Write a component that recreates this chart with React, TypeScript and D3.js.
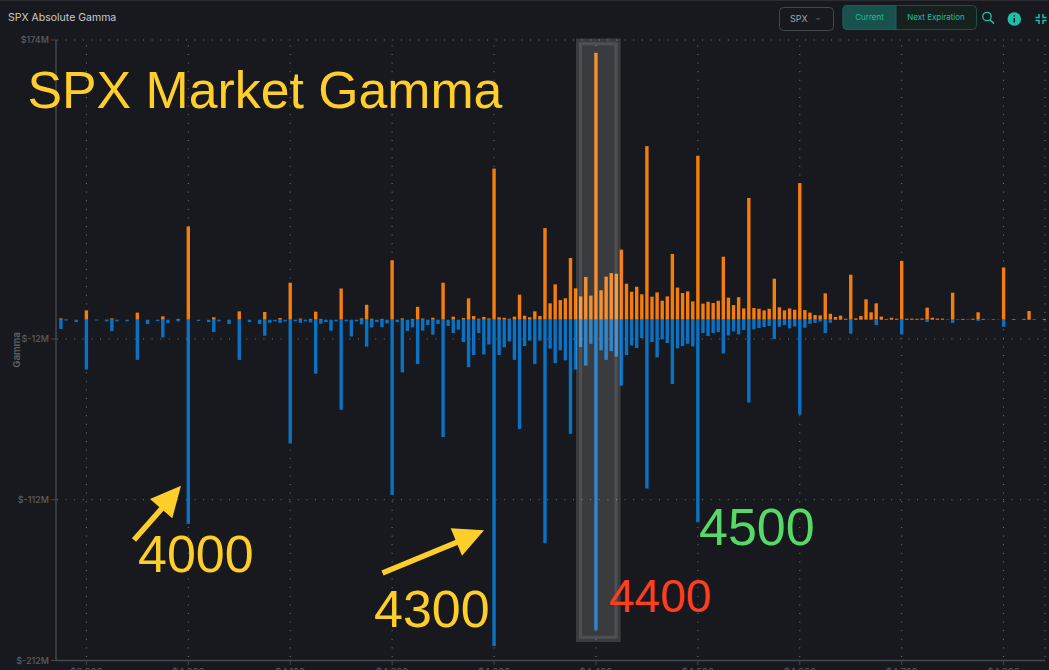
import React from 'react';
import * as d3 from 'd3';

const WIDTH = 1049;
const HEIGHT = 670;

// SPX strikes, call gamma and put gamma in $M (same order in all three)
const strikes = [
  3875, 3880, 3890, 3900, 3910, 3920, 3925, 3930, 3940, 3950, 3960, 3970, 3975, 3980, 3990,
  4000, 4010, 4020, 4025, 4030, 4040, 4050, 4060, 4070, 4075, 4080, 4085, 4090, 4095,
  4100, 4105, 4110, 4115, 4120, 4125, 4130, 4135, 4140, 4145, 4150, 4155, 4160, 4165, 4170, 4175, 4180, 4185, 4190, 4195,
  4200, 4205, 4210, 4215, 4220, 4225, 4230, 4235, 4240, 4245, 4250, 4255, 4260, 4265, 4270, 4275, 4280, 4285, 4290, 4295,
  4300, 4305, 4310, 4315, 4320, 4325, 4330, 4335, 4340, 4345, 4350, 4355, 4360, 4365, 4370, 4375, 4380, 4385, 4390, 4395,
  4400, 4405, 4410, 4415, 4420, 4425, 4430, 4435, 4440, 4445, 4450, 4455, 4460, 4465, 4470, 4475, 4480, 4485, 4490, 4495,
  4500, 4505, 4510, 4515, 4520, 4525, 4530, 4535, 4540, 4545, 4550, 4555, 4560, 4565, 4570, 4575, 4580, 4585, 4590, 4595,
  4600, 4605, 4610, 4615, 4620, 4625, 4630, 4635, 4640, 4645, 4650, 4655, 4660, 4665, 4670, 4675, 4680, 4685, 4690, 4695,
  4700, 4705, 4710, 4715, 4720, 4725, 4730, 4735, 4740, 4745, 4750, 4755, 4760, 4765, 4770, 4775, 4780, 4785, 4790, 4795,
  4800, 4810, 4820, 4825, 4830, 4840,
];
const callGamma = [
  0.8, 0.2, 0, 5.8, 0.1, 0.1, 0.8, 0, 0, 4.4, 0, 0, 2.1, 0, 0.5,
  58, 0, 0, 1.5, 0, 0, 5.2, 0, 0, 4.8, 0, 0, 1, 0,
  23, 0, 0.7, 0, 0.5, 5, 0.5, 0, 0, 0, 19.4, 0, 0, 0, 0.8, 9.3, 0.6, 0, 0.5, 0,
  37, 0, 0.8, 0, 0.5, 8, 0.7, 0, 1.2, 0, 23, 0, 1.9, 0, 1, 13.3, 2.3, 0.6, 1.7, 0.8,
  94, 1.5, 1.2, 0.6, 1.9, 15.6, 2.5, 1.5, 5.2, 2.3, 57, 10.2, 22, 12.2, 13.3, 38.4, 19.5, 14.5, 26.6, 15,
  166, 18.3, 26.8, 29, 28.6, 43.6, 22.4, 17.4, 20.5, 15.8, 108, 14.3, 17, 11.8, 14.5, 40.9, 20, 16.6, 17.6, 11.4,
  102, 10, 11.2, 10.4, 11.8, 39.2, 13.7, 9.1, 14, 7, 75.7, 7.3, 6.8, 5.8, 6.8, 25.5, 7.7, 5.8, 7, 6.2,
  85, 6, 4.4, 2.9, 2.7, 16.4, 3.7, 1.7, 2.5, 0.6, 28, 0.8, 2.3, 12.7, 4.6, 10.2, 1.9, 0.4, 1.2, 0.6,
  36.5, 0.6, 0.7, 0.6, 0.7, 7.5, 1.2, 0.7, 0.7, 0.2, 16.8, 0.2, 0.5, 0.2, 0.6, 4.6, 0.5, 0.1, 0.3, 0.1,
  32.5, 0.4, 0.5, 5.4, 0.3, 0.5,
];
const putGamma = [
  5.8, 0.5, 1.5, 31, 0.5, 1, 7, 1, 1, 25, 2.7, 0.8, 11, 2, 1,
  127, 0.8, 1.5, 7.7, 1, 2.7, 25, 1.5, 2.7, 10, 1.9, 1, 2, 1,
  77, 1, 2, 1, 1.7, 33.6, 2.5, 1.5, 6.8, 1, 56, 1, 10.4, 1, 2.9, 16.8, 4.8, 1.5, 4.6, 2.3,
  109, 1.5, 32.8, 7, 4.8, 27.6, 6.8, 3.3, 9.3, 2.7, 73, 3.9, 8.3, 6.2, 13.9, 29.5, 22, 8.3, 21.6, 15.4,
  203, 22, 17.2, 13.5, 25, 68, 16.4, 13, 27.6, 13, 139, 18, 27, 19, 25.3, 71, 31, 17, 28.6, 15,
  193, 19, 25, 19.5, 23, 41, 22, 16, 17.6, 11.4, 105, 13.9, 23.4, 12.2, 14.5, 40, 17.8, 16.4, 15, 16.6,
  126, 8.3, 10.2, 8.3, 7.7, 21, 9.8, 7.3, 9.1, 6.4, 51.5, 6, 5.2, 4.6, 3.9, 12, 4.4, 3.3, 5.4, 4.2,
  59, 5, 2.5, 2, 1.2, 8.3, 1.9, 0, 0, 0, 8.7, 0, 0, 0, 0, 3.3, 0, 0, 0, 0,
  9.1, 0, 0, 0, 0, 1.5, 0, 0, 0, 0, 2, 0, 0, 0, 0, 0.8, 0, 0, 0, 0,
  4.4, 0, 0, 0, 0, 0,
];

const xTicks = [3900, 4000, 4100, 4200, 4300, 4400, 4500, 4600, 4700, 4800];
const yTicks = [174, -12, -112, -212];

const x = d3.scaleLinear().domain([4000, 4800]).range([188.3, 1003.6]);
const y = d3.scaleLinear().domain([-212, 174]).range([660.5, 40]);
const moneyX = (d: number) => `$${d3.format(',')(d)}`;
const moneyY = (d: number) => `$${d}M`;

const BG = '#17191e';
const AXIS = '#46474b';
const MUTED = '#5c5d61';
const TEAL = '#1dbfa6';
const YELLOW = '#ffce2b';
const UI_FONT = 'Inter, "Liberation Sans", sans-serif';
const NOTE_FONT = '"Liberation Sans", Arial, sans-serif';
const BAR_W = 3.4;

const App = () => {
  const zero = y(0);
  return (
    <svg
      width={WIDTH}
      height={HEIGHT}
      viewBox={`0 0 ${WIDTH} ${HEIGHT}`}
      style={{ position: 'fixed', left: 0, top: 0, display: 'block' }}
    >
      <rect width={WIDTH} height={HEIGHT} fill={BG} />
      <rect width={WIDTH} height={1} fill="#2a2c31" />

      {/* header */}
      <text x={8} y={21} fontFamily={UI_FONT} fontSize={10.5} fill="#c9cacc">
        SPX Absolute Gamma
      </text>
      <rect x={779.5} y={7.5} width={54} height={23} rx={4} fill="none" stroke="#45474b" />
      <text x={790} y={22} fontFamily={UI_FONT} fontSize={9} fill="#a4a5a8">
        SPX
      </text>
      <path d="M815 18h6l-3 2.5z" fill="#3c3d41" />
      <rect x={843} y={5.5} width={133.5} height={24} rx={4} fill="#15211f" stroke="#1d4f4a" />
      <path d="M896 5.5H847a4 4 0 0 0 -4 4v16a4 4 0 0 0 4 4H896z" fill="#17524c" stroke="#1d5f58" />
      <text x={869.5} y={20} textAnchor="middle" fontFamily={UI_FONT} fontSize={8} fill={TEAL}>
        Current
      </text>
      <text x={936} y={20} textAnchor="middle" fontFamily={UI_FONT} fontSize={8} fill={TEAL}>
        Next Expiration
      </text>
      <circle cx={987} cy={16.5} r={4.2} fill="none" stroke={TEAL} strokeWidth={1.3} />
      <path d="M990 19.7L994 23.6" stroke={TEAL} strokeWidth={1.5} />
      <circle cx={1014.3} cy={19} r={6.8} fill={TEAL} />
      <path d="M1014.3 18v4.5M1014.3 15v1.5" stroke={BG} strokeWidth={1.4} />
      <path
        d="M1039 14v3.5h-3.5M1043 14v3.5h3.5M1039 24v-3.5h-3.5M1043 24v-3.5h3.5"
        fill="none"
        stroke={TEAL}
        strokeWidth={1.5}
      />

      {/* grid */}
      <g stroke="#77787c" strokeWidth={1} strokeDasharray="1 7.6">
        {yTicks.slice(0, 3).map((t) => (
          <line key={t} x1={57} x2={1046} y1={y(t)} y2={y(t)} />
        ))}
        {xTicks.map((t) => (
          <line key={t} x1={x(t)} x2={x(t)} y1={657} y2={40} />
        ))}
        <line x1={1045} x2={1045} y1={657} y2={40} />
      </g>

      {/* bars */}
      <g>
        {strikes.map((s, i) => (
          <g key={s}>
            <rect x={x(s) - BAR_W / 2} y={y(callGamma[i])} width={BAR_W} height={zero - y(callGamma[i])} fill="#f57d0e" />
            <rect x={x(s) - BAR_W / 2} y={zero} width={BAR_W} height={y(-putGamma[i]) - zero} fill="#0a72c4" />
          </g>
        ))}
      </g>

      {/* axes */}
      <path d="M56 40V660.5H1045" fill="none" stroke={AXIS} strokeWidth={1.5} />
      {yTicks.map((t) => (
        <g key={t}>
          <line x1={51} x2={56} y1={y(t)} y2={y(t)} stroke={AXIS} />
          <text
            x={49}
            y={y(t)}
            dy="0.35em"
            textAnchor="end"
            fontFamily={UI_FONT}
            fontSize={9}
            fontWeight={500}
            fill={MUTED}
          >
            {moneyY(t)}
          </text>
        </g>
      ))}
      {xTicks.map((t) => (
        <g key={t}>
          <line x1={x(t)} x2={x(t)} y1={660} y2={665} stroke={AXIS} />
          <text x={x(t)} y={675} textAnchor="middle" fontFamily={UI_FONT} fontSize={9.5} fill={MUTED}>
            {moneyX(t)}
          </text>
        </g>
      ))}
      <text
        transform="translate(20 350) rotate(-90)"
        textAnchor="middle"
        fontFamily={UI_FONT}
        fontSize={9.5}
        fontWeight={700}
        fill={MUTED}
      >
        Gamma
      </text>

      {/* highlight over 4400 */}
      <rect x={576} y={38.5} width={44.7} height={603.5} fill="#fff" fillOpacity={0.15} />
      <rect x={580.5} y={43.8} width={35.5} height={593.5} fill="none" stroke="#fff" strokeOpacity={0.1} strokeWidth={3.2} />

      {/* annotations */}
      <text x={27.5} y={108} fontFamily={NOTE_FONT} fontSize={51.8} fill={YELLOW}>
        SPX Market Gamma
      </text>
      <line x1={134} y1={540} x2={164} y2={506} stroke={YELLOW} strokeWidth={5.5} />
      <polygon points="181,485.7 150,499 172.3,518.3" fill={YELLOW} />
      <line x1={382.5} y1={573} x2={460} y2={541} stroke={YELLOW} strokeWidth={5.5} />
      <polygon points="484,530.3 450.7,528.3 462,555.7" fill={YELLOW} />
      <text x={138} y={572} fontFamily={NOTE_FONT} fontSize={52} fill={YELLOW}>
        4000
      </text>
      <text x={374} y={627} fontFamily={NOTE_FONT} fontSize={52} fill={YELLOW}>
        4300
      </text>
      <text x={609} y={612} fontFamily={NOTE_FONT} fontSize={46} fill="#ff3d1f">
        4400
      </text>
      <text x={699} y={545} fontFamily={NOTE_FONT} fontSize={52} fill="#56d966">
        4500
      </text>
    </svg>
  );
};

export default App;
